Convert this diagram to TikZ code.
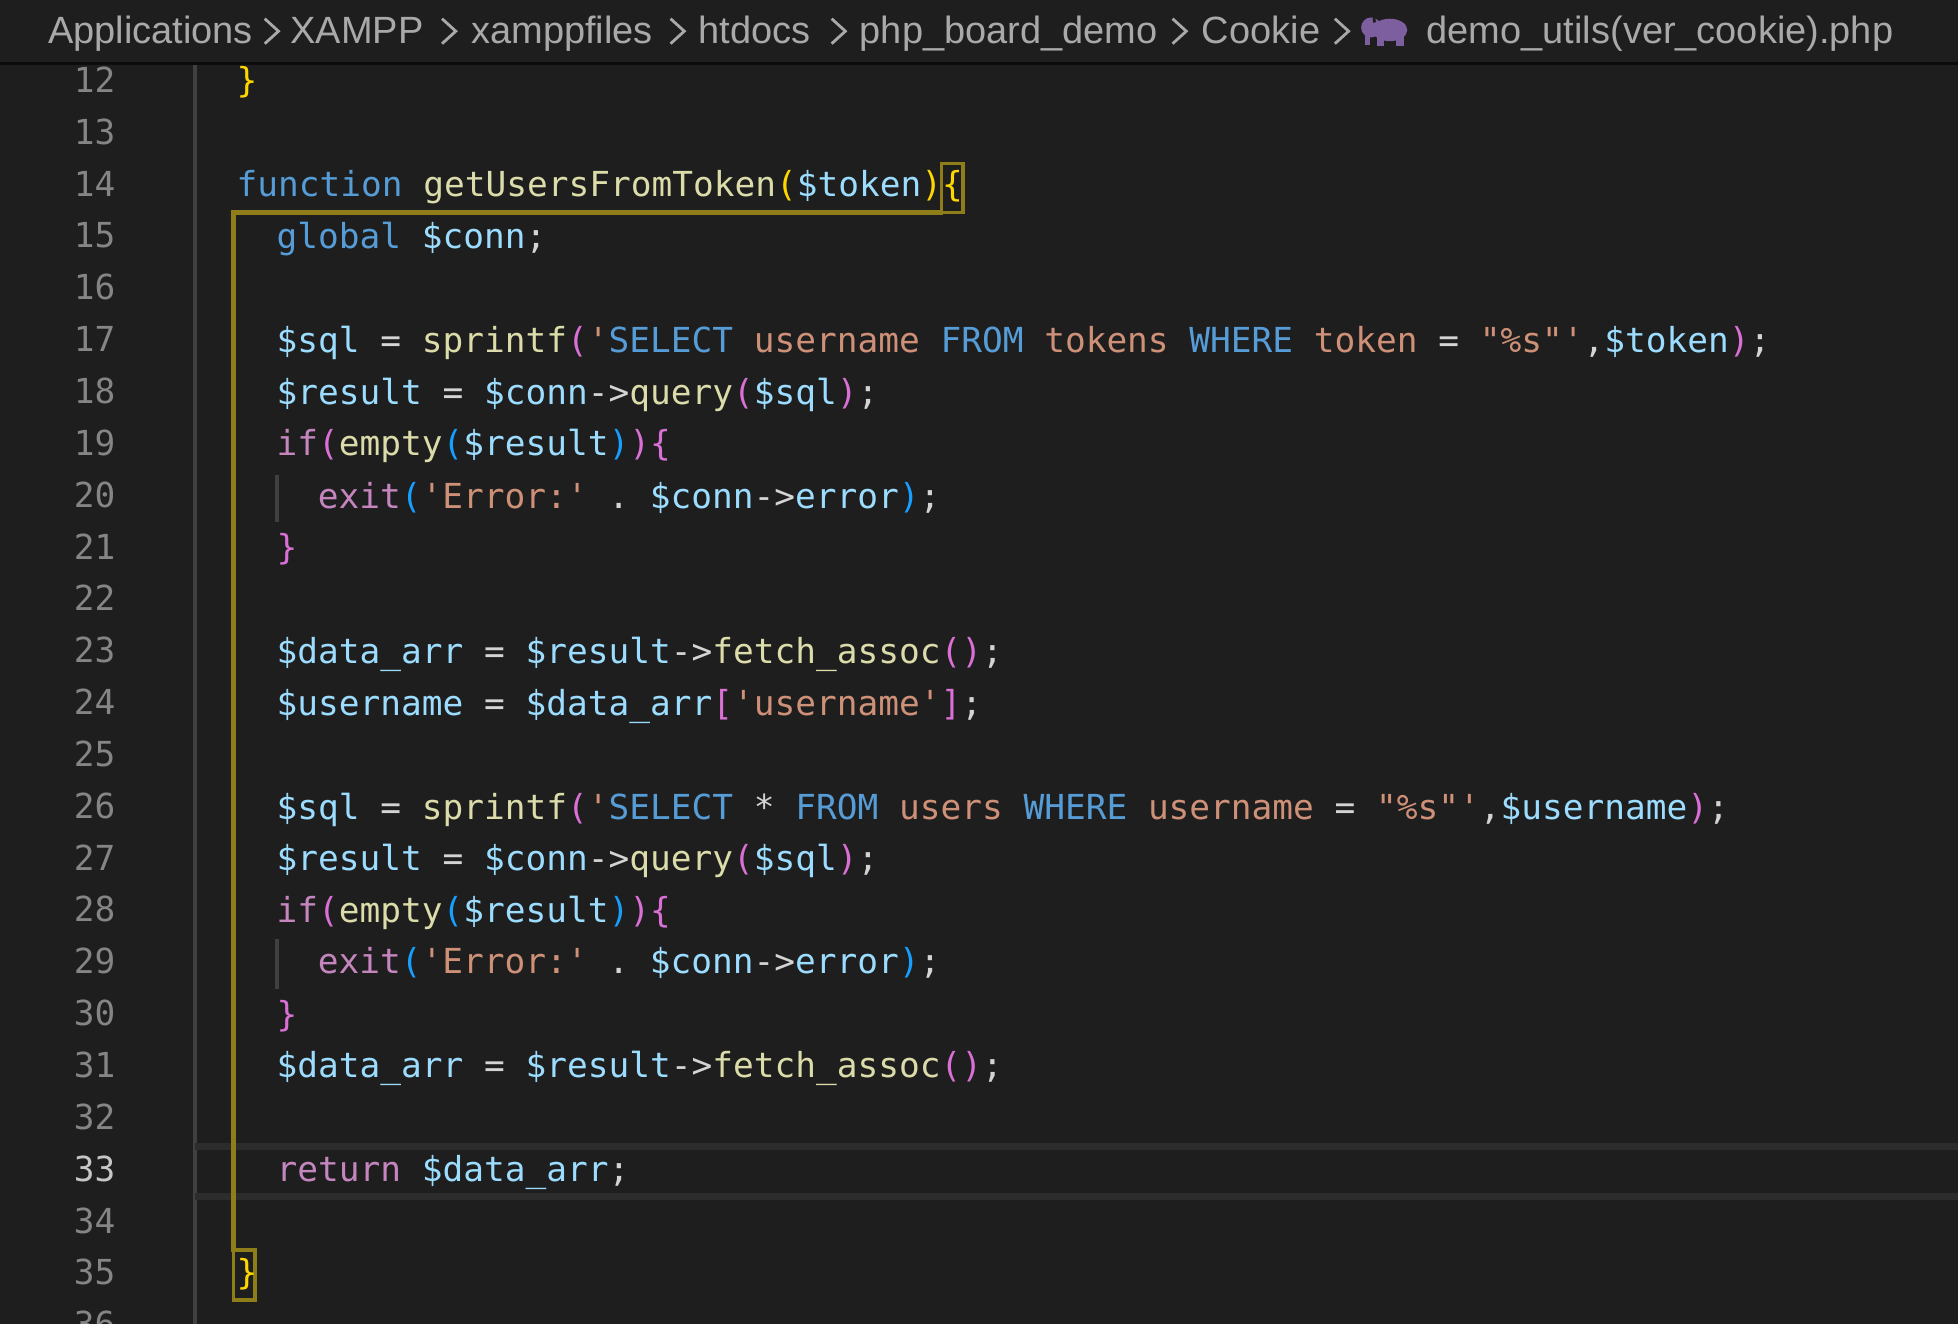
\documentclass[tikz,border=0pt]{standalone}
\usepackage{fontspec}
\setmainfont{Liberation Sans}
\newfontfamily\codefont{DejaVu Sans Mono}
\usetikzlibrary{calc}
\definecolor{editorbg}{HTML}{1E1E1E}
\definecolor{lnum}{HTML}{858585}
\definecolor{lnumact}{HTML}{C6C6C6}
\definecolor{crumb}{HTML}{A9A9A9}
\definecolor{kwblue}{HTML}{569CD6}
\definecolor{varblue}{HTML}{9CDCFE}
\definecolor{fnyellow}{HTML}{DCDCAA}
\definecolor{strorange}{HTML}{CE9178}
\definecolor{ctlpink}{HTML}{C586C0}
\definecolor{opwhite}{HTML}{D4D4D4}
\definecolor{brgold}{HTML}{FFD700}
\definecolor{brpink}{HTML}{DA70D6}
\definecolor{brblue}{HTML}{179FFF}
\definecolor{guidegold}{HTML}{8F7D1A}
\definecolor{guidegrey}{HTML}{404040}
\definecolor{curline}{HTML}{2C2C2C}
\definecolor{phpicon}{HTML}{7D5E9E}
\newcommand\Kw[1]{\textcolor{kwblue}{#1}}
\newcommand\Va[1]{\textcolor{varblue}{#1}}
\newcommand\Fn[1]{\textcolor{fnyellow}{#1}}
\newcommand\St[1]{\textcolor{strorange}{#1}}
\newcommand\Ct[1]{\textcolor{ctlpink}{#1}}
\newcommand\Op[1]{\textcolor{opwhite}{#1}}
\newcommand\Bg[1]{\textcolor{brgold}{#1}}
\newcommand\Bp[1]{\textcolor{brpink}{#1}}
\newcommand\Bb[1]{\textcolor{brblue}{#1}}
\tikzset{
  codeline/.style={anchor=base west,inner sep=0pt,font=\frenchspacing\codefont\fontsize{9.8}{11}\selectfont},
  linenum/.style={anchor=base east,inner sep=0pt,text=lnum,font=\codefont\fontsize{9.8}{11}\selectfont},
  crumbtext/.style={anchor=base west,inner sep=0pt,text=crumb,font=\fontsize{10.8}{12}\selectfont},
  chevron/.style={crumb,line width=0.8pt}
}
\begin{document}
\begin{tikzpicture}[x=0.012487cm,y=-0.012487cm]
\fill[editorbg] (0,0) rectangle (1568,1060);
\clip (0,0) rectangle (1568,1060);

% breadcrumbs
\draw[black!60!editorbg,line width=1pt] (0,51) -- (1568,51);
\node[crumbtext] (c1) at (38,35) {Applications};
\node[crumbtext] (c2) at (232,35) {XAMPP};
\node[crumbtext] (c3) at (377,35) {xamppfiles};
\node[crumbtext] (c4) at (559,35) {htdocs};
\node[crumbtext] (c5) at (688,35) {php\_board\_demo};
\node[crumbtext] (c6) at (962,35) {Cookie};
\node[crumbtext] (c7) at (1142,35) {demo\_utils(ver\_cookie).php};
\foreach \x in {212,354,537,666,939,1069}
    \draw[chevron] (\x,15) -- (\x+11,25) -- (\x,35);
% php elephant
\fill[phpicon] (1113,24) ellipse (14 and 9);
\fill[phpicon] (1098,22) circle (8);
\fill[phpicon] (1093,24) rectangle (1097,36);
\fill[phpicon] (1103,28) rectangle (1108,37);
\fill[phpicon] (1118,28) rectangle (1124,37);
\draw[editorbg,line width=0.8pt] (1101,18) arc (150:300:5);

% gutter and guides
\draw[guidegrey,line width=1pt] (156,52) -- (156,1060);
\draw[curline,line width=2pt] (156,918) -- (1568,918);
\draw[curline,line width=2pt] (156,958) -- (1568,958);
\draw[guidegrey,line width=1pt] (222,380) -- (222,418);
\draw[guidegrey,line width=1pt] (222,752) -- (222,792);
\draw[guidegold,line width=1.3pt] (755,170) -- (187,170) -- (187,1003);
\draw[guidegold,line width=1pt] (754,131) rectangle (771,170);
\draw[guidegold,line width=1pt] (187,1001) rectangle (204,1041);

% line numbers
\foreach \n in {12,...,32,34,35,36}
    \node[linenum] (n\n) at (93,{65+(\n-12)*41.52+9}) {\n};
\node[linenum,text=lnumact] (n33) at (93,{65+21*41.52+9}) {33};

% code
\node[codeline] (l12) at (189,74) {\Bg{\}}};
\node[codeline] (l14) at (189,157) {\Kw{function} \Fn{getUsersFromToken}\Bg{(}\Va{\$token}\Bg{)}\Bg{\{}};
\node[codeline] (l15) at (221,199) {\Kw{global} \Va{\$conn}\Op{;}};
\node[codeline] (l17) at (221,282) {\Va{\$sql} \Op{=} \Fn{sprintf}\Bp{(}\St{'}\Kw{SELECT} \St{username} \Kw{FROM} \St{tokens} \Kw{WHERE} \St{token} \Op{=} \St{"\%s"'}\Op{,}\Va{\$token}\Bp{)}\Op{;}};
\node[codeline] (l18) at (221,324) {\Va{\$result} \Op{=} \Va{\$conn}\Op{->}\Fn{query}\Bp{(}\Va{\$sql}\Bp{)}\Op{;}};
\node[codeline] (l19) at (221,365) {\Ct{if}\Bp{(}\Fn{empty}\Bb{(}\Va{\$result}\Bb{)}\Bp{)}\Bp{\{}};
\node[codeline] (l20) at (254,407) {\Ct{exit}\Bb{(}\St{'Error:'} \Op{.} \Va{\$conn}\Op{->}\Va{error}\Bb{)}\Op{;}};
\node[codeline] (l21) at (221,448) {\Bp{\}}};
\node[codeline] (l23) at (221,531) {\Va{\$data\_arr} \Op{=} \Va{\$result}\Op{->}\Fn{fetch\_assoc}\Bp{()}\Op{;}};
\node[codeline] (l24) at (221,573) {\Va{\$username} \Op{=} \Va{\$data\_arr}\Bp{[}\St{'username'}\Bp{]}\Op{;}};
\node[codeline] (l26) at (221,656) {\Va{\$sql} \Op{=} \Fn{sprintf}\Bp{(}\St{'}\Kw{SELECT} \Op{*} \Kw{FROM} \St{users} \Kw{WHERE} \St{username} \Op{=} \St{"\%s"'}\Op{,}\Va{\$username}\Bp{)}\Op{;}};
\node[codeline] (l27) at (221,697) {\Va{\$result} \Op{=} \Va{\$conn}\Op{->}\Fn{query}\Bp{(}\Va{\$sql}\Bp{)}\Op{;}};
\node[codeline] (l28) at (221,739) {\Ct{if}\Bp{(}\Fn{empty}\Bb{(}\Va{\$result}\Bb{)}\Bp{)}\Bp{\{}};
\node[codeline] (l29) at (254,780) {\Ct{exit}\Bb{(}\St{'Error:'} \Op{.} \Va{\$conn}\Op{->}\Va{error}\Bb{)}\Op{;}};
\node[codeline] (l30) at (221,822) {\Bp{\}}};
\node[codeline] (l31) at (221,863) {\Va{\$data\_arr} \Op{=} \Va{\$result}\Op{->}\Fn{fetch\_assoc}\Bp{()}\Op{;}};
\node[codeline] (l33) at (221,946) {\Ct{return} \Va{\$data\_arr}\Op{;}};
\node[codeline] (l35) at (189,1029) {\Bg{\}}};
\end{tikzpicture}
\end{document}
